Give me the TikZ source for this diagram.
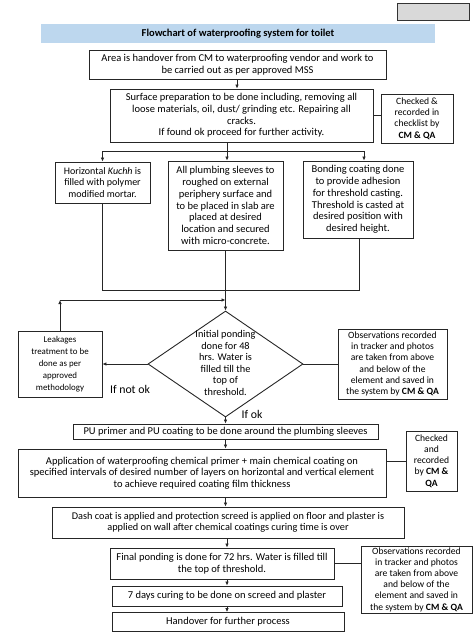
\documentclass[tikz,border=0pt]{standalone}
\usepackage{fontspec}
\setmainfont{Carlito}
\usetikzlibrary{arrows.meta,shapes.geometric}
\definecolor{titleblue}{HTML}{BDD7EE}
\definecolor{boxgray}{HTML}{D9D9D9}
\begin{document}
\begin{tikzpicture}[x=1pt,y=-1pt,
  box/.style={draw=black!85,line width=0.9pt,align=center,inner sep=0pt,font=\fontsize{10.5}{11.6}\selectfont},
  sbox/.style={box,font=\fontsize{9.6}{11.2}\selectfont},
  cbox/.style={box,font=\fontsize{10.5}{11.8}\selectfont},
  arr/.style={-{Latex[length=4pt,width=3.6pt]},line width=0.9pt,draw=black!85},
  ln/.style={line width=0.9pt,draw=black!85},
  lbl/.style={font=\fontsize{11.8}{13}\selectfont,inner sep=0pt}]
\useasboundingbox (0,0) rectangle (474,632);
\node[draw=black!80,fill=boxgray,line width=0.8pt,minimum width=72pt,minimum height=17pt,inner sep=0pt] (gray) at (433,11.5) {};
\node[fill=titleblue,minimum width=394pt,minimum height=19pt,inner sep=0pt,font=\fontsize{10.5}{11}\selectfont\bfseries] (title) at (238,33.5) {Flowchart of waterproofing system for toilet};
\node[box,minimum width=297pt,minimum height=29pt] (b1) at (237.5,64.5) {Area is handover from CM to waterproofing vendor and work to\\be carried out as per approved MSS};
\node[box,minimum width=263pt,minimum height=53pt] (b2) at (241.5,115.5) {Surface preparation to be done including, removing all\\loose materials, oil, dust/ grinding etc. Repairing all\\cracks.\\If found ok proceed for further activity.};
\node[sbox,minimum width=72pt,minimum height=49pt] (chk1) at (417,118.5) {Checked \&\\recorded in\\checklist by\\\textbf{CM \& QA}};
\node[cbox,font=\fontsize{10}{11.3}\selectfont,minimum width=95pt,minimum height=41pt] (bL) at (102.5,182.5) {Horizontal \textit{Kuchh} is\\filled with polymer\\modified mortar.};
\node[cbox,minimum width=115pt,minimum height=89pt] (bM) at (225.5,205.5) {All plumbing sleeves to\\roughed on external\\periphery surface and\\to be placed in slab are\\placed at desired\\location and secured\\with micro-concrete.};
\node[cbox,minimum width=110pt,minimum height=77pt] (bR) at (358,199.5) {Bonding coating done\\to provide adhesion\\for threshold casting.\\Threshold is casted at\\desired position with\\desired height.};
\node[draw=black!85,line width=0.9pt,diamond,minimum width=155pt,minimum height=106pt,inner sep=0pt] (dia) at (225.5,364) {};
\node[align=center,inner sep=0pt,font=\fontsize{10.3}{11.6}\selectfont] (diat) at (225.5,363) {Initial ponding\\done for 48\\hrs. Water is\\filled till the\\top of\\threshold.};
\node[sbox,font=\fontsize{8.9}{11.9}\selectfont,minimum width=84pt,minimum height=66pt] (leak) at (60,364) {Leakages\\treatment to be\\done as per\\approved\\methodology};
\node[sbox,minimum width=109pt,minimum height=70pt] (obs1) at (392.5,364) {Observations recorded\\in tracker and photos\\are taken from above\\and below of the\\element and saved in\\the system by \textbf{CM \& QA}};
\node[box,minimum width=305pt,minimum height=15pt] (pu) at (225.5,431.5) {PU primer and PU coating to be done around the plumbing sleeves};
\node[box,minimum width=368pt,minimum height=48pt] (app) at (202,473) {Application of waterproofing chemical primer + main chemical coating on\\specified intervals of desired number of layers on horizontal and vertical element\\to achieve required coating film thickness};
\node[sbox,minimum width=51pt,minimum height=60pt] (chk2) at (431.5,461) {Checked\\and\\recorded\\by \textbf{CM \&}\\\textbf{QA}};
\node[box,font=\fontsize{10.3}{11.6}\selectfont,minimum width=352pt,minimum height=31pt] (dash) at (228,522.5) {Dash coat is applied and protection screed is applied on floor and plaster is\\applied on wall after chemical coatings curing time is over};
\node[box,minimum width=224pt,minimum height=31pt] (final) at (222,563.5) {Final ponding is done for 72 hrs. Water is filled till\\the top of threshold.};
\node[sbox,minimum width=111pt,minimum height=67pt] (obs2) at (416.5,579.5) {Observations recorded\\in tracker and photos\\are taken from above\\and below of the\\element and saved in\\the system by \textbf{CM \& QA}};
\node[box,minimum width=230pt,minimum height=20pt] (cure) at (227,596) {7 days curing to be done on screed and plaster};
\node[box,minimum width=232pt,minimum height=19pt] (hand) at (228,622) {Handover for further process};
\node[lbl] (nok) at (130,389) {If not ok};
\node[lbl] (ok) at (252,414) {If ok};
% connectors
\coordinate (sp) at (227,151);
\coordinate (jn) at (225.5,290);
\coordinate (lp) at (60,300);
\draw[arr] (b1.south -| 237,0) -- (b2.north -| 237,0);
\draw[ln] (b2.east) -- (b2.east -| chk1.west);
\draw[ln] (b2.south -| sp) -- (sp);
\draw[ln] (bL.north |- sp) -- ([xshift=6pt]bR.north |- sp);
\draw[arr] (bL.north |- sp) -- (bL.north);
\draw[arr] (sp) -- (sp |- bM.north);
\draw[arr] ([xshift=6pt]bR.north |- sp) -- ([xshift=6pt]bR.north);
\draw[ln] (bL.south) -- (bL.south |- jn) -- ([xshift=1pt]bR.south |- jn) -- ([xshift=1pt]bR.south);
\draw[ln] (bM.south) -- (jn);
\draw[arr] (jn) -- (dia.north);
\draw[arr] (leak.north) -- (lp);
\draw[arr] (lp) -- (lp -| dia.north);
\draw[arr] (dia.west) -- (leak.east);
\draw[ln] (dia.east) -- (obs1.west);
\draw[arr] (dia.south) -- (pu.north);
\draw[arr] (pu.south) -- (pu.south |- app.north);
\draw[ln] (app.east |- chk2.west) -- (chk2.west);
\draw[arr] (pu.south |- app.south) -- (pu.south |- dash.north);
\draw[arr] (dash.south -| cure.south) -- (cure.north |- final.north);
\draw[ln] (final.east) -- (final.east -| obs2.west);
\draw[arr] (cure.north |- final.south) -- (cure.north);
\draw[arr] (cure.south) -- (cure.south |- hand.north);
\end{tikzpicture}
\end{document}
